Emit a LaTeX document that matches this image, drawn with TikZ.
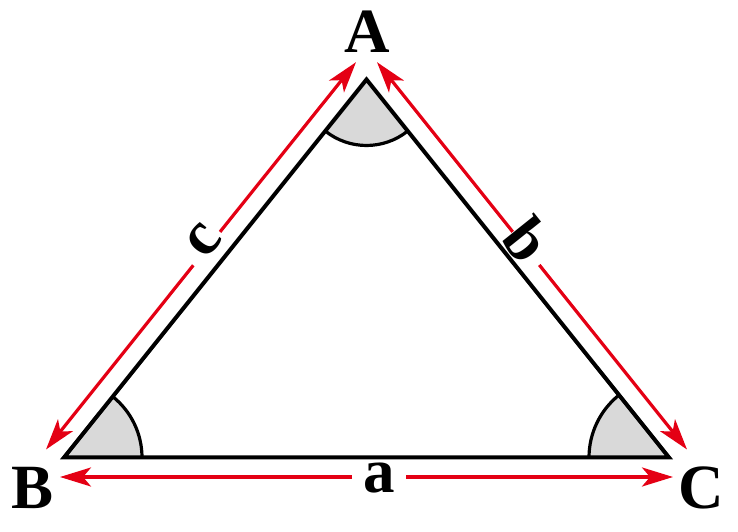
\documentclass[tikz,border=0pt]{standalone}
\usepackage{fontspec}
\setmainfont{Liberation Serif}
\usetikzlibrary{arrows.meta}
\definecolor{redarrow}{RGB}{228,0,20}
\definecolor{anglegray}{RGB}{217,217,217}
\begin{document}
\begin{tikzpicture}[x=1pt,y=1pt,
  side/.style={line width=4pt, line join=miter, draw=black},
  redarr/.style={draw=redarrow, line width=3.2pt, -{Stealth[length=31pt,width=19pt,inset=8pt]}},
  anglefill/.style={fill=anglegray},
  anglearc/.style={draw=black, line width=3.2pt},
  biglabel/.style={font=\bfseries\fontsize{63}{63}\selectfont, inner sep=0pt}]
\useasboundingbox (0,0) rectangle (738,532);
% vertices
\coordinate (A) at (366.5,452.5);
\coordinate (B) at (64,74.5);
\coordinate (C) at (669,74.5);
% angle sectors
\fill[anglefill] (A) -- ++(231.33:66) arc[start angle=231.33, end angle=308.67, radius=66] -- cycle;
\fill[anglefill] (B) -- ++(0:78) arc[start angle=0, end angle=51.33, radius=78] -- cycle;
\fill[anglefill] (C) -- ++(128.67:80) arc[start angle=128.67, end angle=180, radius=80] -- cycle;
\draw[anglearc] (A) ++(231.33:66) arc[start angle=231.33, end angle=308.67, radius=66];
\draw[anglearc] (B) ++(0:78) arc[start angle=0, end angle=51.33, radius=78];
\draw[anglearc] (C) ++(128.67:80) arc[start angle=128.67, end angle=180, radius=80];
% triangle
\draw[side] (A) -- (B) -- (C) -- cycle;
% arrow end points
\coordinate (BL) at (46,82.5);
\coordinate (AL) at (356,469.8);
\coordinate (AR) at (377,469.8);
\coordinate (CR) at (687,82.5);
\coordinate (Bb) at (60,55);
\coordinate (Cb) at (673,55);
\coordinate (cg1) at (193.3,266.7);
\coordinate (cg2) at (220,300.1);
\coordinate (bg1) at (512.7,300.2);
\coordinate (bg2) at (539.3,267);
\coordinate (ag1) at (352,55);
\coordinate (ag2) at (406,55);
% red arrows
\draw[redarr] (cg1) -- (BL);
\draw[redarr] (cg2) -- (AL);
\draw[redarr] (bg1) -- (AR);
\draw[redarr] (bg2) -- (CR);
\draw[redarr] (ag1) -- (Bb);
\draw[redarr] (ag2) -- (Cb);
% labels
\node[biglabel, anchor=base] (lA) at (367.5,479.3) {A};
\node[biglabel, anchor=base] (lB) at (32.8,23.7) {B};
\node[biglabel, anchor=base] (lC) at (701.7,23) {C};
\node[biglabel, anchor=base] (la) at (379.7,39.5) {a};
\node[biglabel, rotate=51.33] (lc) at (203.7,291.2) {c};
\node[biglabel, rotate=-51.33] (lb) at (527.5,292) {b};
\end{tikzpicture}
\end{document}
